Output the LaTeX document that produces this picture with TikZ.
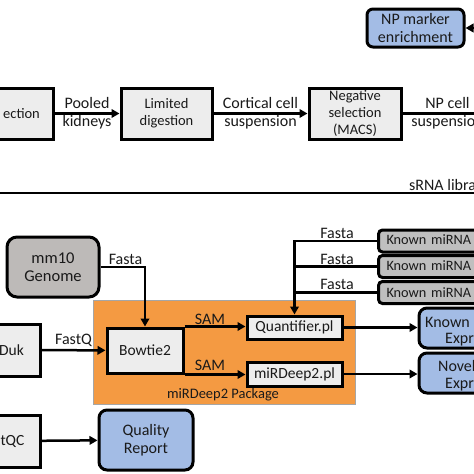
\documentclass[tikz,border=0pt]{standalone}
\usepackage{fontspec}
\setmainfont{Carlito}
\usetikzlibrary{arrows.meta}
\newcommand\fsz[2]{\fontsize{#1}{#2}\selectfont}
\definecolor{lgray}{HTML}{EDEDED}
\definecolor{mgray}{HTML}{BDBAB8}
\definecolor{kgray}{HTML}{BFBFBF}
\definecolor{lblue}{HTML}{A3BCE5}
\definecolor{orng}{HTML}{F49A42}
\definecolor{ink}{HTML}{1A1A1A}
\tikzset{
  box/.style={draw=black, line width=3pt, fill=lgray, inner sep=0pt, align=center, text=ink, font=\fsz{14.5}{17}},
  kbox/.style={draw=black, line width=3pt, fill=kgray, rounded corners=4pt, inner ysep=0pt, inner xsep=8pt, text width=220pt, align=left, minimum height=22pt, anchor=west, text=ink, font=\fsz{14.3}{17}},
  bbox/.style={draw=black, line width=3pt, fill=lblue, rounded corners=8pt, inner sep=0pt, align=center, text=ink, font=\fsz{16}{18}},
  lab/.style={text=ink, align=center, inner sep=0pt, font=\fsz{16}{18}},
  slab/.style={text=ink, align=center, inner sep=0pt, font=\fsz{16}{18}},
  arr/.style={-{Triangle[length=8pt,width=8.5pt]}, line width=2.5pt},
  ln/.style={line width=2.5pt},
}
\begin{document}
\begin{tikzpicture}[x=1pt,y=-1pt]
\useasboundingbox (0,0) rectangle (474,474);
\clip (0,0) rectangle (474,474);
\fill[white] (0,0) rectangle (474,474);

% ---------- top ----------
\node[bbox, minimum width=97pt, minimum height=38pt, rounded corners=6pt] (np) at (415.5,28) {NP marker\\enrichment};
\coordinate (tr) at (482,28);
\draw[arr] (tr) -- (np.east);

% ---------- middle row ----------
\node[box, minimum width=63pt, minimum height=51pt] (dis) at (21.5,113.5) {ection};
\node[box, minimum width=91pt, minimum height=51pt] (lim) at (166.5,113.5) {Limited\\digestion};
\node[box, minimum width=92pt, minimum height=51pt] (neg) at (355,113.5) {Negative\\selection\\(MACS)};
\coordinate (rc) at (482,113.5);
\draw[arr] (dis) -- node[lab] (l1) {Pooled\\kidneys} (lim);
\draw[arr] (lim) -- node[lab] (l2) {Cortical cell\\suspension} (neg);
\draw[ln] (neg) -- (rc);
\node[lab] (l3) at (447.5,113) {NP cell\\suspension};

% ---------- separator ----------
\coordinate (s1) at (-5,193);
\coordinate (s2) at (482,193);
\draw[line width=2.6pt] (s1) -- (s2);
\node[lab, anchor=base west] (srna) at (409,190) {sRNA library};

% ---------- bottom ----------
\node[draw=gray!70, line width=0.8pt, fill=orng, minimum width=262pt, minimum height=104pt, inner sep=0pt] (pkg) at (224,352) {};
\node[text=ink, inner sep=0pt, font=\fsz{14.5}{16}] (pkgl) at (223,395) {miRDeep2 Package};

\node[box, rounded corners=10pt, fill=mgray, minimum width=92pt, minimum height=60pt, font=\fsz{16.5}{18}] (mm) at (53,267) {mm10\\Genome};
\node[box, minimum width=76pt, minimum height=45pt, font=\fsz{15.5}{18}] (bt) at (145,350.5) {Bowtie2};
\node[box, minimum width=57pt, minimum height=52pt, font=\fsz{15.5}{18}] (duk) at (11.5,350) {Duk};
\node[box, minimum width=55pt, minimum height=52pt, font=\fsz{15.5}{18}] (qc) at (12.5,441) {tQC};
\node[bbox, minimum width=94pt, minimum height=60pt] (qr) at (146,440) {Quality\\Report};

\node[box, minimum width=95pt, minimum height=23pt, font=\fsz{15.5}{17}] (qu) at (294.5,327.5) {Quantifier.pl};
\node[box, minimum width=95pt, minimum height=24pt, font=\fsz{15.5}{17}] (md) at (294.5,374) {miRDeep2.pl};

\node[kbox] (k1) at (377,241) {Known miRNA hairpins};
\node[kbox] (k2) at (377,266.5) {Known miRNA precursors};
\node[kbox] (k3) at (377,292.5) {Known miRNA mature};

\node[bbox, minimum width=121pt, minimum height=40pt] (kn) at (479.5,328) {};
\node[bbox, minimum width=121pt, minimum height=40pt] (nv) at (479.5,373) {};
\node[lab, anchor=base west] (knt1) at (425,327) {Known miRNA};
\node[lab, anchor=base west] (knt2) at (445,343) {Expression};
\node[lab, anchor=base west] (nvt1) at (438,371) {Novel miRNA};
\node[lab, anchor=base west] (nvt2) at (445,388) {Expression};

% connectors
\draw[arr] (mm.east) -| (bt.north);
\node[slab] (fa0) at (125.5,259) {Fasta};
\draw[arr] (duk) -- node[slab, above=2.5pt] (fq) {FastQ} (bt);
\draw[arr] (qc) -- (qr);

\draw[arr] (bt.north east) -- (bt.north east -| qu.west);
\draw[arr] (bt.south east) -- (bt.south east -| md.west);
\node[slab] (sam1) at (210,319) {SAM};
\node[slab] (sam2) at (210,365) {SAM};

\draw[arr] (k1.west) -| (qu.north);
\draw[ln] (k2.west) -- (k2.west -| qu.north);
\draw[ln] (k3.west) -- (k3.west -| qu.north);
\node[slab] (fa1) at (337,233) {Fasta};
\node[slab] (fa2) at (337,259.5) {Fasta};
\node[slab] (fa3) at (337,284.5) {Fasta};

\draw[arr] (qu) -- (qu -| kn.west);
\draw[arr] (md) -- (md -| nv.west);
\end{tikzpicture}
\end{document}
